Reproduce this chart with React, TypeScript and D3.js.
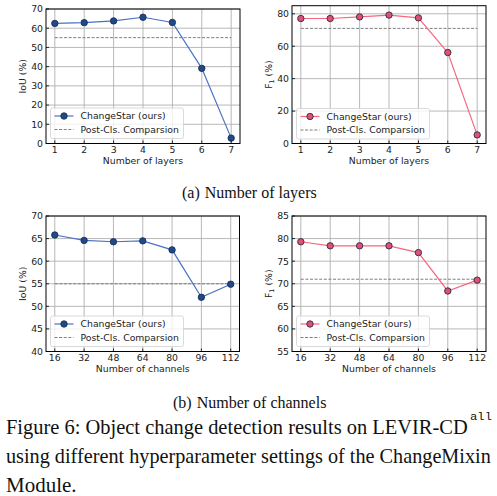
import { useLayoutEffect, useRef, useState } from 'react';
import * as d3 from 'd3';

// values
const layers = [1, 2, 3, 4, 5, 6, 7];
const layerIoU = [62.5, 62.9, 63.8, 65.7, 63.0, 39.1, 2.8];
const layerF1 = [77.1, 77.1, 78.1, 79.2, 77.5, 56.1, 5.3];

const channels = [16, 32, 48, 64, 80, 96, 112];
const channelIoU = [65.8, 64.6, 64.3, 64.5, 62.5, 52.0, 54.9];
const channelF1 = [79.3, 78.4, 78.4, 78.4, 76.9, 68.4, 70.8];

const postClsIoU = 55.1;
const postClsF1 = 71.0;

const iouLayerTicks = [0, 10, 20, 30, 40, 50, 60, 70];
const f1LayerTicks = [0, 20, 40, 60, 80];
const iouChannelTicks = [40, 45, 50, 55, 60, 65, 70];
const f1ChannelTicks = [55, 60, 65, 70, 75, 80, 85];

const seriesName = 'ChangeStar (ours)';
const baselineName = 'Post-Cls. Comparsion';

const SANS = 'DejaVu Sans, sans-serif';
const SERIF = 'Liberation Serif, Times New Roman, serif';

const BLUE = { line: '#4a72c4', fill: '#1f4a8a', edge: '#1b2d55' };
const PINK = { line: '#f7687f', fill: '#e0506f', edge: '#2e2a4e' };

interface PanelProps {
    left: number;
    right: number;
    top: number;
    bottom: number;
    xs: number[];
    ys: number[];
    yDomain: [number, number];
    yTicks: number[];
    baseline: number;
    colors: { line: string; fill: string; edge: string };
    xLabel: string;
    f1: boolean;
    legendTop: number;
}

const Panel = ({ left, right, top, bottom, xs, ys, yDomain, yTicks, baseline, colors, xLabel, f1, legendTop }: PanelProps) => {
    const xMin = d3.min(xs) || 0;
    const xMax = d3.max(xs) || 1;
    const pad = (xMax - xMin) * 0.05;
    const x = d3.scaleLinear().domain([xMin - pad, xMax + pad]).range([left, right]);
    const y = d3.scaleLinear().domain(yDomain).range([bottom, top]);

    const pts: [number, number][] = xs.map((d, i) => [d, ys[i]]);
    const line = d3.line<[number, number]>().x((d) => x(d[0])).y((d) => y(d[1]));

    const midY = (top + bottom) / 2;
    const lx = left + 4.5;
    const ly = legendTop;

    return (
        <g>
            {/* grid */}
            {xs.map((d) => (
                <line key={'gx' + d} x1={x(d)} x2={x(d)} y1={top} y2={bottom} stroke="#b0b0b0" strokeWidth={0.9} />
            ))}
            {yTicks.map((d) => (
                <line key={'gy' + d} x1={left} x2={right} y1={y(d)} y2={y(d)} stroke="#b0b0b0" strokeWidth={0.9} />
            ))}

            {/* baseline */}
            <line
                x1={x(xMin)}
                x2={x(xMax)}
                y1={y(baseline)}
                y2={y(baseline)}
                stroke="#707070"
                strokeWidth={0.9}
                strokeDasharray="3,1.6"
            />

            {/* series */}
            <path d={line(pts) || ''} fill="none" stroke={colors.line} strokeWidth={1.2} />
            {pts.map((d, i) => (
                <circle key={'p' + i} cx={x(d[0])} cy={y(d[1])} r={3.2} fill={colors.fill} stroke={colors.edge} strokeWidth={0.9} />
            ))}

            {/* frame */}
            <rect x={left} y={top} width={right - left} height={bottom - top} fill="none" stroke="#000" strokeWidth={1} />

            {/* ticks */}
            {xs.map((d) => (
                <g key={'tx' + d}>
                    <line x1={x(d)} x2={x(d)} y1={bottom} y2={bottom - 3} stroke="#000" strokeWidth={0.8} />
                    <text x={x(d)} y={bottom + 9.5} textAnchor="middle" fontFamily={SANS} fontSize={9.3} fill="#222">
                        {d}
                    </text>
                </g>
            ))}
            {yTicks.map((d) => (
                <g key={'ty' + d}>
                    <line x1={left} x2={left + 3} y1={y(d)} y2={y(d)} stroke="#000" strokeWidth={0.8} />
                    <text x={left - 3} y={y(d) + 3.4} textAnchor="end" fontFamily={SANS} fontSize={9.3} fill="#222">
                        {d}
                    </text>
                </g>
            ))}

            {/* axis labels */}
            <text x={(left + right) / 2} y={bottom + 20.5} textAnchor="middle" fontFamily={SANS} fontSize={9.3} fill="#222">
                {xLabel}
            </text>
            <text
                transform={`translate(${left - 20},${midY}) rotate(-90)`}
                textAnchor="middle"
                fontFamily={SANS}
                fontSize={9.3}
                fill="#222"
            >
                {f1 ? (
                    <>
                        F<tspan fontSize={6.5} dy={2}>1</tspan>
                        <tspan dy={-2}> (%)</tspan>
                    </>
                ) : (
                    'IoU (%)'
                )}
            </text>

            {/* legend */}
            <rect x={lx} y={ly} width={133} height={30.5} rx={2} fill="#fff" fillOpacity={0.8} stroke="#d0d0d0" strokeWidth={0.8} />
            <line x1={lx + 4} x2={lx + 23} y1={ly + 8} y2={ly + 8} stroke={colors.line} strokeWidth={1.2} />
            <circle cx={lx + 13.5} cy={ly + 8} r={3.2} fill={colors.fill} stroke={colors.edge} strokeWidth={0.9} />
            <text x={lx + 30} y={ly + 11.3} fontFamily={SANS} fontSize={9.3} fill="#222">
                {seriesName}
            </text>
            <line x1={lx + 4} x2={lx + 23} y1={ly + 21.5} y2={ly + 21.5} stroke="#707070" strokeWidth={0.9} strokeDasharray="3,1.6" />
            <text x={lx + 30} y={ly + 24.8} fontFamily={SANS} fontSize={9.3} fill="#222">
                {baselineName}
            </text>
        </g>
    );
};

// text squeezed horizontally to a given width (the paper's Times is narrower than Liberation Serif)
const FitText = ({ x, y, width, size, children }: { x: number; y: number; width: number; size: number; children: string }) => {
    const ref = useRef<SVGTextElement>(null);
    const [k, setK] = useState(1);
    useLayoutEffect(() => {
        if (ref.current) {
            const w = ref.current.getComputedTextLength();
            if (w > 0) setK(width / w);
        }
    }, [width, children]);
    return (
        <text ref={ref} transform={`translate(${x},${y}) scale(${k},1)`} fontFamily={SERIF} fontSize={size} fill="#111">
            {children}
        </text>
    );
};

const App = () => {
    return (
        <svg width={497} height={496} style={{ position: 'absolute', left: 0, top: 0, background: '#fff' }}>
            <rect width={497} height={496} fill="#fff" />

            <Panel left={46} right={240} top={9} bottom={143.5} xs={layers} ys={layerIoU} yDomain={[0, 70]}
                yTicks={iouLayerTicks} baseline={postClsIoU} colors={BLUE} xLabel="Number of layers" f1={false} legendTop={108} />
            <Panel left={292} right={486} top={5.7} bottom={143.5} xs={layers} ys={layerF1} yDomain={[0, 85]}
                yTicks={f1LayerTicks} baseline={postClsF1} colors={PINK} xLabel="Number of layers" f1={true} legendTop={108.5} />
            <Panel left={46} right={239.5} top={216} bottom={351.5} xs={channels} ys={channelIoU} yDomain={[40, 70]}
                yTicks={iouChannelTicks} baseline={postClsIoU - 0.1} colors={BLUE} xLabel="Number of channels" f1={false} legendTop={316} />
            <Panel left={292} right={486} top={216} bottom={351.5} xs={channels} ys={channelF1} yDomain={[55, 85]}
                yTicks={f1ChannelTicks} baseline={postClsF1} colors={PINK} xLabel="Number of channels" f1={true} legendTop={316} />

            {/* sub captions */}
            <text x={182} y={197.5} fontFamily={SERIF} fontSize={16} fill="#111">
                (a)<tspan dx={5}>Number of layers</tspan>
            </text>
            <text x={173} y={407.5} fontFamily={SERIF} fontSize={16} fill="#111">
                (b)<tspan dx={5}>Number of channels</tspan>
            </text>

            {/* figure caption */}
            <FitText x={6} y={433.5} width={462} size={21}>Figure 6: Object change detection results on LEVIR-CD</FitText>
            <text x={470} y={419.5} fontFamily="Liberation Mono, DejaVu Sans Mono, monospace" fontSize={11} fill="#111" textLength={22} lengthAdjust="spacingAndGlyphs">
                all
            </text>
            <FitText x={6} y={462.5} width={485} size={21}>using different hyperparameter settings of the ChangeMixin</FitText>
            <text x={6} y={491.5} fontFamily={SERIF} fontSize={21} fill="#111">
                Module.
            </text>
        </svg>
    );
};

export default App;
